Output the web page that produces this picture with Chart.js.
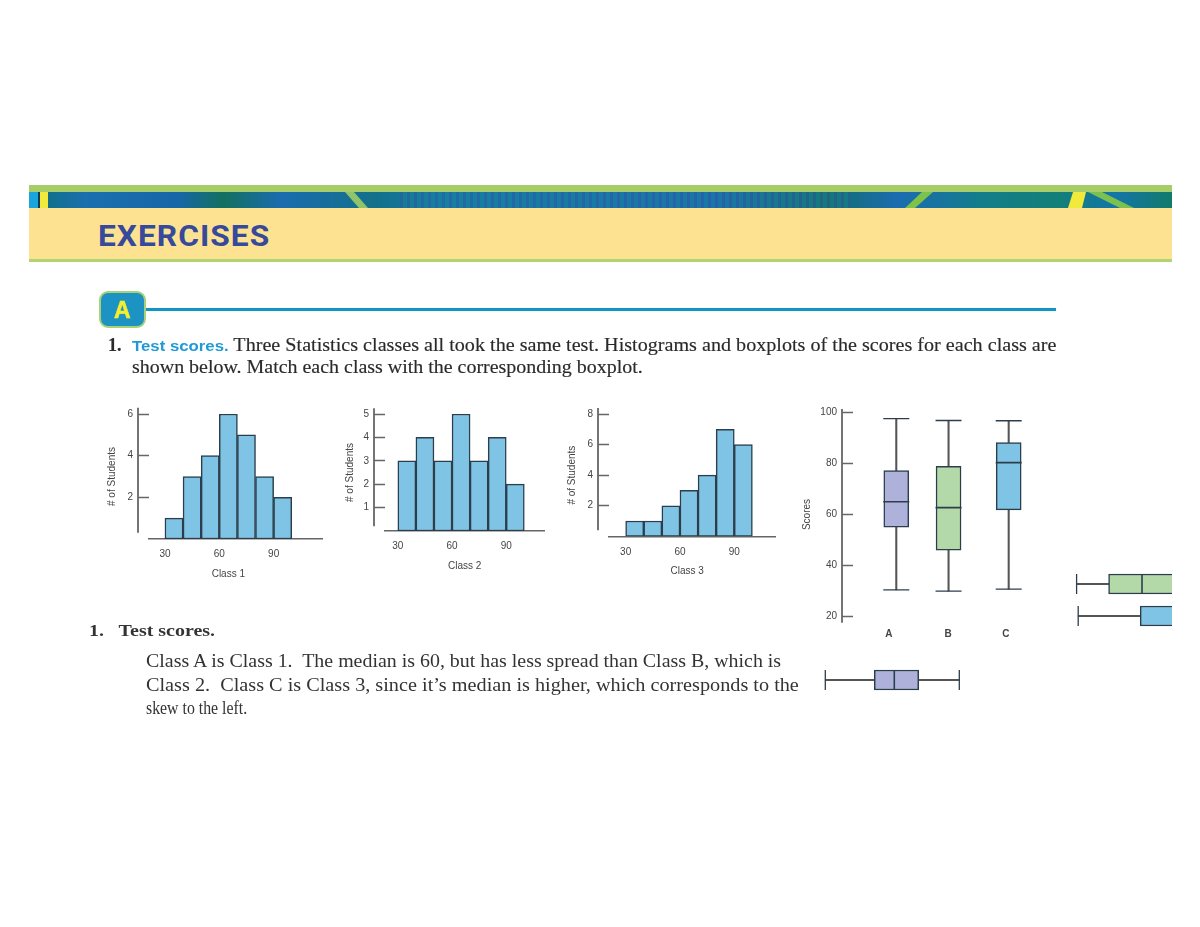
<!DOCTYPE html>
<html>
<head>
<meta charset="utf-8">
<title>Exercises - Test scores</title>
<script src="https://cdn.jsdelivr.net/npm/chart.js@4"></script>
<style>
  html, body { margin: 0; padding: 0; background: #fff; }
  #page { position: relative; width: 1200px; height: 927px; overflow: hidden; filter: blur(0.45px); }
  #page > * { position: absolute; }
  canvas { display: block; }
  .t { white-space: nowrap; line-height: 20px; height: 20px; transform-origin: 0 50%; color: #2a2a2a; }
  .q { font-family: "Liberation Serif", serif; font-size: 18px; -webkit-text-stroke: 0.15px #2a2a2a; }
  .a { font-family: "Liberation Serif", serif; font-size: 18.5px; color: #333; }
  .blue { font: 700 15px/20px "Liberation Sans", sans-serif; color: #1f9ad6; -webkit-text-stroke: 0; }
</style>
</head>
<body>
<div id="page">
  <!-- banner -->
  <div style="left:29px;top:185px;width:1143px;height:7px;background:#a6cd68"></div>
  <div style="left:29px;top:192px;width:1143px;height:16px;background:linear-gradient(90deg,#1aa5dc 0,#1aa5dc 0.8%,#123a5a 0.8%,#123a5a 1%,#f0ea3a 1%,#f0ea3a 1.7%,#126f8c 1.7%,#1a6fae 5%,#1766a8 13%,#13705f 17%,#1a6cae 22%,#14708a 30%,#1479a8 36%,#1b6cb0 60%,#126f70 70%,#1b6cb0 76%,#137e88 84%,#127f78 90%,#1475a8 95%,#127a6a 100%)"></div>
  <div style="left:400px;top:192px;width:450px;height:16px;opacity:.35;background:repeating-linear-gradient(90deg,#3a4fa0 0,#3a4fa0 3px,#1a8a90 3px,#1a8a90 7px)"></div>
  <div style="left:340px;top:192px;width:30px;height:16px;background:#8fc46a;clip-path:polygon(5px 0,14px 0,28px 100%,19px 100%)"></div>
  <div style="left:905px;top:192px;width:30px;height:16px;background:#7fc24a;clip-path:polygon(17px 0,28px 0,10px 100%,0 100%)"></div>
  <div style="left:1068px;top:192px;width:20px;height:16px;background:#f2ea3a;clip-path:polygon(5px 0,18px 0,14px 100%,0 100%)"></div>
  <div style="left:1088px;top:192px;width:46px;height:16px;background:#7cc050;clip-path:polygon(0 0,14px 0,46px 100%,32px 100%)"></div>
  <div style="left:29px;top:208px;width:1143px;height:52px;background:#fde292"></div>
  <div style="left:29px;top:259px;width:1143px;height:3px;background:#b0d470"></div>
  <div class="t" data-w="172" style="left:98px;top:226px;font:700 30px/20px Roboto,sans-serif;letter-spacing:1px;color:#36499a">EXERCISES</div>

  <!-- section badge -->
  <div style="left:146px;top:307.5px;width:910px;height:3px;background:#1493c4;box-shadow:0 0 1px #8fd0e8"></div>
  <div style="left:99px;top:291px;width:43px;height:33px;background:#1d93c4;border:2px solid #a8d27a;border-radius:9px"></div>
  <div class="t" style="left:114px;top:300px;font:900 23px/20px 'Liberation Sans',sans-serif;-webkit-text-stroke:0.6px #f4ee30;color:#f4ee30">A</div>

  <!-- question -->
  <div class="t q" style="left:108px;top:335px;font-weight:700">1.</div>
  <div class="t q" data-w="924" style="left:132px;top:335px"><span class="blue">Test scores.</span> Three Statistics classes all took the same test. Histograms and boxplots of the scores for each class are</div>
  <div class="t q" data-w="511" style="left:132px;top:357px">shown below. Match each class with the corresponding boxplot.</div>

  <!-- charts -->
  <canvas id="hist1"></canvas>
  <canvas id="hist2"></canvas>
  <canvas id="hist3"></canvas>
  <canvas id="boxV"></canvas>
  <canvas id="boxBC"></canvas>
  <canvas id="boxA"></canvas>

  <!-- answer -->
  <div class="t a" data-w="126" style="left:89px;top:621px;font-weight:700;font-size:16px">1.&nbsp;&nbsp; Test scores.</div>
  <div class="t a" data-w="635" style="left:146px;top:651px">Class A is Class 1.&nbsp; The median is 60, but has less spread than Class B, which is</div>
  <div class="t a" data-w="653" style="left:146px;top:675px">Class 2.&nbsp; Class C is Class 3, since it’s median is higher, which corresponds to the</div>
  <div class="t a" data-w="101" style="left:146px;top:698px">skew to the left.</div>
</div>

<script>
// histogram data, one count per 10 point bin
const binCenters = [35, 45, 55, 65, 75, 85, 95];
const class1Counts = [1, 3, 4, 6, 5, 3, 2];
const class2Counts = [3, 4, 3, 5, 3, 4, 2];
const class3Counts = [1, 1, 2, 3, 4, 7, 6];
const scoreTicks = [30, 60, 90];
const class1Ticks = [2, 4, 6];
const class2Ticks = [1, 2, 3, 4, 5];
const class3Ticks = [2, 4, 6, 8];

// boxplot data
const boxNames = ['A', 'B', 'C'];
const boxMin = [30.5, 30, 30.8];
const boxQ1 = [55, 46, 61.8];
const boxMedian = [65, 62.7, 80.3];
const boxQ3 = [77.2, 78.9, 88.1];
const boxMax = [97.5, 96.8, 96.7];
const boxScoreTicks = [20, 40, 60, 80, 100];

const boxFill = { A: '#aeb2da', B: '#b4d9a8', C: '#7fc4e4' };
const INK = '#2c3e4c';
const AXIS = '#666';
const LABEL = '#444';
const FONT = { family: '"Liberation Sans", sans-serif', size: 10 };

Chart.defaults.animation = false;
Chart.defaults.responsive = false;

// spine that stops short of the baseline, and the x title under the axis
const axisExtras = {
  id: 'axisExtras',
  afterDraw(chart, args, opts) {
    const ctx = chart.ctx;
    const y = chart.scales.y;
    ctx.save();
    ctx.strokeStyle = AXIS;
    ctx.lineWidth = 1.8;
    const sx = y.right - y.options.grid.tickLength;
    ctx.beginPath();
    ctx.moveTo(sx, y.getPixelForValue(opts.spine[0]));
    ctx.lineTo(sx, y.getPixelForValue(opts.spine[1]));
    ctx.stroke();
    if (opts.title) {
      ctx.fillStyle = LABEL;
      ctx.font = '10px ' + FONT.family;
      ctx.textAlign = 'center';
      ctx.textBaseline = 'middle';
      ctx.fillText(opts.title, chart.scales.x.getPixelForValue(opts.titleAt), chart.chartArea.bottom + 35);
    }
    ctx.restore();
  },
};

function placeCanvas(id, left, top, width, height) {
  const el = document.getElementById(id);
  el.width = width;
  el.height = height;
  el.style.left = left + 'px';
  el.style.top = top + 'px';
  return el;
}

function yScale(ticks, min, max, title, fitWidth) {
  return {
    min, max,
    afterBuildTicks: s => { s.ticks = ticks.map(value => ({ value })); },
    afterFit: s => { s.width = fitWidth; },
    border: { display: false },
    grid: { drawOnChartArea: false, tickLength: 11, tickWidth: 1.5, tickColor: AXIS },
    ticks: { font: FONT, color: LABEL, padding: 5, callback: v => v },
    title: { display: true, text: title, font: FONT, color: LABEL, padding: 0 },
  };
}

function histogram(id, box, counts, yTicks, name, titleAt) {
  const left = box.left, top = 400, right = box.right + 8, bottom = 590;
  const el = placeCanvas(id, left, top, Math.ceil(right - left), bottom - top);
  return new Chart(el, {
    type: 'bar',
    data: {
      datasets: [{
        data: binCenters.map((x, i) => ({ x, y: counts[i] })),
        backgroundColor: '#7fc4e4',
        borderColor: INK,
        borderWidth: 1.5,
        borderSkipped: false,
        barPercentage: 1,
        categoryPercentage: 1,
      }],
    },
    options: {
      layout: { padding: { top: box.top - top, right: 8, left: 0, bottom: 0 } },
      plugins: {
        legend: { display: false },
        tooltip: { enabled: false },
        axisExtras: { spine: box.spine, title: name, titleAt },
      },
      scales: {
        x: {
          type: 'linear',
          offset: false,
          min: box.xMin, max: box.xMax,
          afterBuildTicks: s => { s.ticks = scoreTicks.map(value => ({ value })); },
          afterFit: s => { s.height = bottom - box.bottom; },
          border: { display: true, color: AXIS, width: 1.5 },
          grid: { display: false, drawTicks: false },
          ticks: { font: FONT, color: LABEL, padding: 9.5, maxRotation: 0, callback: v => v },
        },
        y: yScale(yTicks, 0, yTicks[yTicks.length - 1], '# of Students', box.areaLeft - left),
      },
    },
    plugins: [axisExtras],
  });
}

histogram('hist1', { left: 106, areaLeft: 149, right: 322, top: 414, bottom: 539, xMin: 21.2, xMax: 116.7, spine: [0.3, 6.3] },
  class1Counts, class1Ticks, 'Class 1', 65);
histogram('hist2', { left: 344, areaLeft: 385, right: 543.3, top: 414, bottom: 531, xMin: 22.9, xMax: 110.9, spine: [0.2, 5.25] },
  class2Counts, class2Ticks, 'Class 2', 67);
histogram('hist3', { left: 566, areaLeft: 609, right: 775, top: 414, bottom: 536.3, xMin: 20.8, xMax: 112.5, spine: [0.4, 8.4] },
  class3Counts, class3Ticks, 'Class 3', 64);

// the boxes are built from the same arrays whichever way they lie
function boxDatasets(indices, horizontal, slots, capRadius, barSize) {
  const at = (i, v) => {
    const slot = slots ? slots[boxNames[i]] : boxNames[i];
    return horizontal ? { x: v, y: slot } : { x: slot, y: v };
  };
  const range = (i, lo, hi) => {
    const slot = slots ? slots[boxNames[i]] : boxNames[i];
    return horizontal ? { x: [lo, hi], y: slot } : { x: slot, y: [lo, hi] };
  };
  const marks = (list, order, width) => ({
    type: 'line',
    showLine: false,
    order,
    data: list,
    pointStyle: 'line',
    pointRadius: capRadius,
    pointRotation: horizontal ? 90 : 0,
    pointBorderWidth: width,
    pointBorderColor: INK,
    pointBackgroundColor: INK,
  });
  return [
    {
      type: 'bar', grouped: false, order: 3,
      data: indices.map(i => range(i, boxMin[i], boxMax[i])),
      backgroundColor: '#555', borderWidth: 0, barThickness: 1.4,
    },
    {
      type: 'bar', grouped: false, order: 2,
      data: indices.map(i => range(i, boxQ1[i], boxQ3[i])),
      backgroundColor: indices.map(i => boxFill[boxNames[i]]),
      borderColor: INK, borderWidth: 1.5, borderSkipped: false, barThickness: barSize,
    },
    marks(indices.flatMap(i => [at(i, boxMin[i]), at(i, boxMax[i])]), 1, 1.3),
    marks(indices.map(i => at(i, boxMedian[i])), 1, 1.6),
  ];
}

// vertical A, B, C panel; the gaps in the reference are not even
const boxSlots = { A: 1, B: 1.93, C: 3 };
const boxLabelSlots = { A: 0.87, B: 1.92, C: 2.95 };
const vBox = placeCanvas('boxV', 801, 400, 247, 250);
new Chart(vBox, {
  data: { datasets: boxDatasets([0, 1, 2], false, boxSlots, 13, 25) },
  options: {
    layout: { autoPadding: false, padding: { top: 12.3, right: 8, left: 0, bottom: 0 } },
    plugins: {
      legend: { display: false },
      tooltip: { enabled: false },
      axisExtras: { spine: [17.6, 101.3] },
    },
    scales: {
      x: {
        type: 'linear',
        offset: false,
        min: 0.23, max: 3.557,
        afterBuildTicks: s => { s.ticks = boxNames.map(n => ({ value: boxLabelSlots[n] })); },
        afterFit: s => { s.height = 33.3; },
        border: { display: false },
        grid: { display: false, drawTicks: false },
        ticks: {
          font: { ...FONT, weight: 'bold' }, color: LABEL, padding: 12, maxRotation: 0,
          callback: (v, i) => boxNames[i],
        },
      },
      y: yScale(boxScoreTicks, 20, 100, 'Scores', 52),
    },
  },
  plugins: [axisExtras],
});

// horizontal copies, cut off by the right edge of the page image
function horizontalBoxes(id, left, top, width, height, indices, xMin, xMax) {
  const el = placeCanvas(id, left, top, width, height);
  return new Chart(el, {
    data: {
      labels: indices.map(i => boxNames[i]),
      datasets: boxDatasets(indices, true, null, 10, 20),
    },
    options: {
      indexAxis: 'y',
      layout: { autoPadding: false, padding: 0 },
      plugins: { legend: { display: false }, tooltip: { enabled: false } },
      scales: {
        x: { type: 'linear', offset: false, min: xMin, max: xMax, display: false },
        y: { type: 'category', offset: true, display: false },
      },
    },
  });
}
horizontalBoxes('boxBC', 1070, 568, 102, 64, [1, 2], 26.7, 77.7);
horizontalBoxes('boxA', 815, 664, 155, 32, [0], 25.35, 102.85);

// stretch the text lines to the widths they have on the page
document.querySelectorAll('[data-w]').forEach(el => {
  el.style.transform = 'scaleX(' + (+el.dataset.w / el.offsetWidth) + ')';
});
</script>
</body>
</html>
